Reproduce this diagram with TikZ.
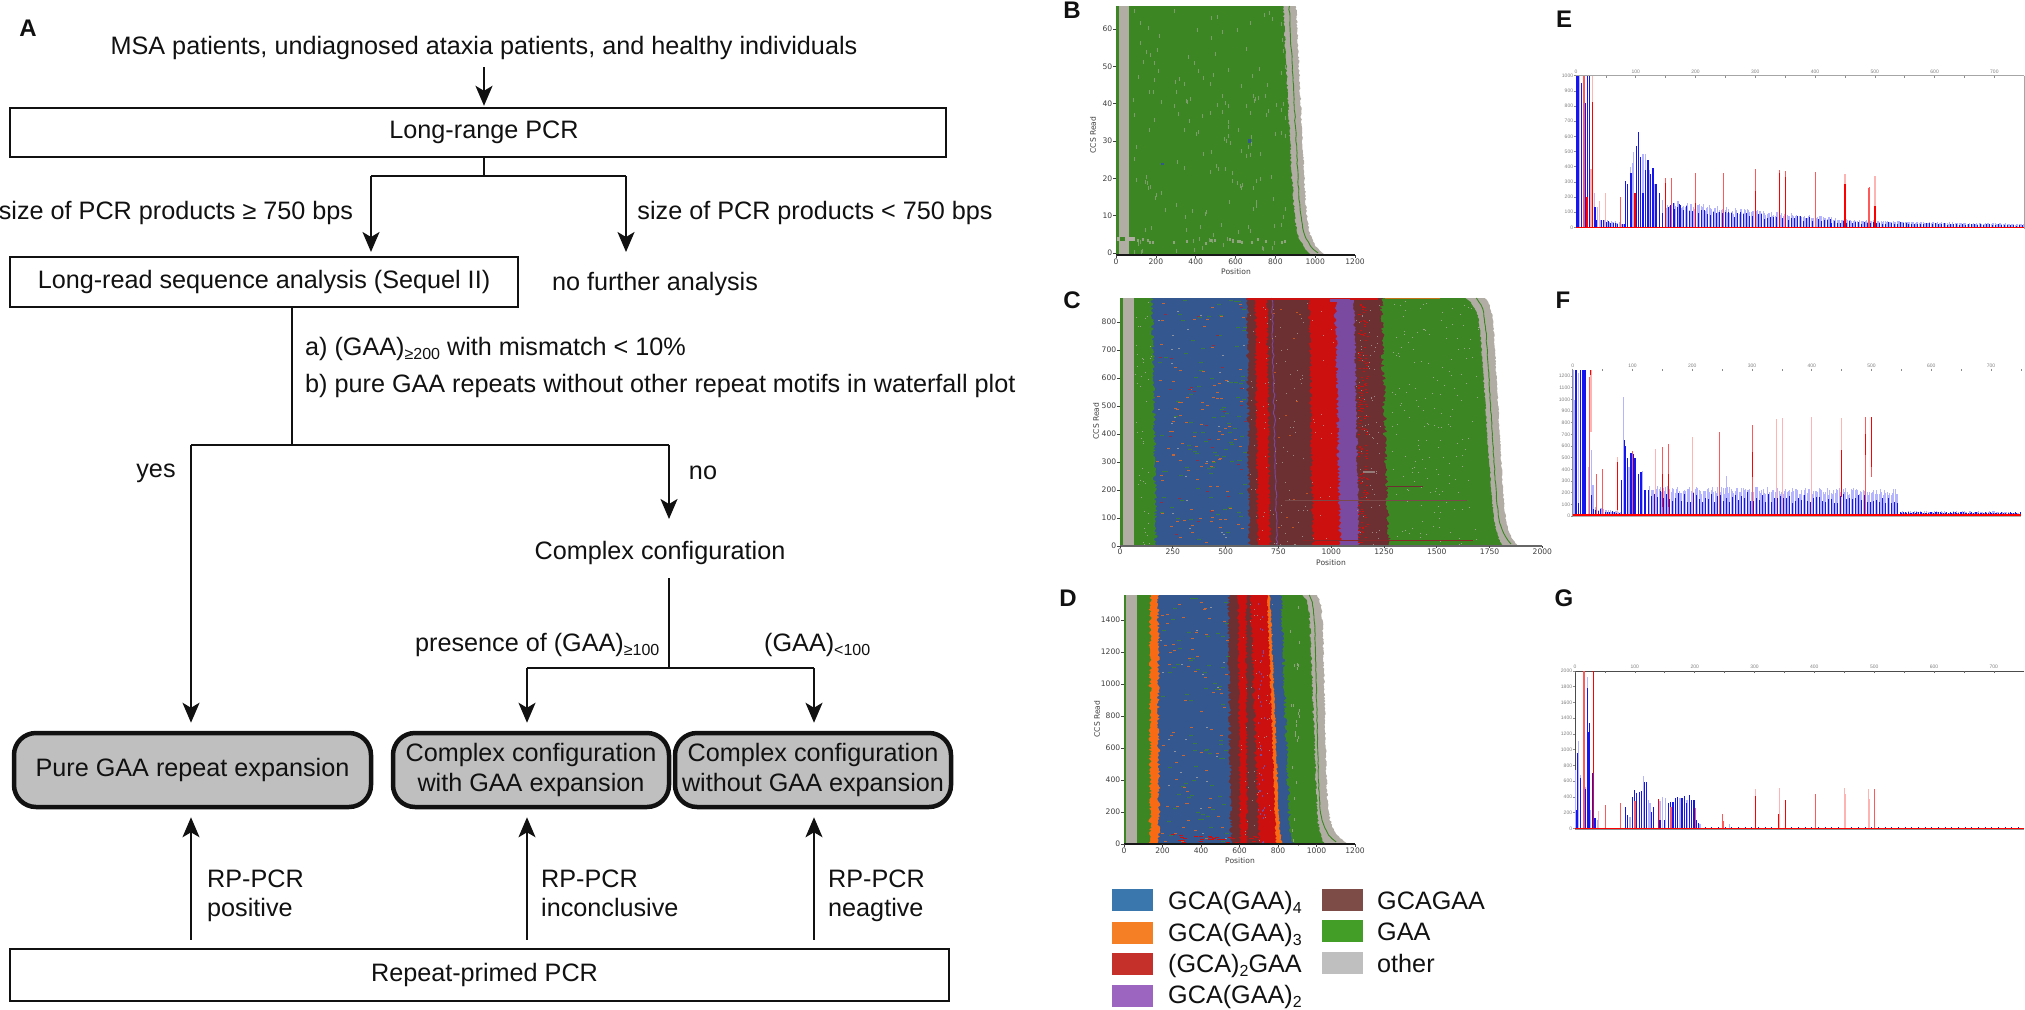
\documentclass[tikz,border=0pt]{standalone}
\usepackage{fontspec}
\setmainfont{Liberation Sans}
\newfontfamily\dvfont{DejaVu Sans}
\usetikzlibrary{arrows.meta}
\definecolor{wgreen}{HTML}{3C8723}
\definecolor{wgray}{HTML}{B1ADA5}
\definecolor{wblue}{HTML}{35578F}
\definecolor{worange}{HTML}{F96A14}
\definecolor{wred}{HTML}{CC1010}
\definecolor{wbrown}{HTML}{6C3032}
\definecolor{wpurple}{HTML}{7A4AA0}
\definecolor{lblue}{HTML}{3A77AD}
\definecolor{lorange}{HTML}{F57F24}
\definecolor{lred}{HTML}{C5312A}
\definecolor{lpurple}{HTML}{9B65C0}
\definecolor{lbrown}{HTML}{7E4C46}
\definecolor{lgreen}{HTML}{429E26}
\definecolor{lgray}{HTML}{BFBFBF}
\definecolor{bdark}{HTML}{1515EE}
\definecolor{blite}{HTML}{B4B4FF}
\definecolor{rmid}{HTML}{FF5A5A}
\definecolor{rlite}{HTML}{FFB4B4}
\definecolor{rfull}{HTML}{FF0000}
\definecolor{inkc}{HTML}{111111}
\newcommand{\subs}[1]{\raisebox{-0.16em}{\fontsize{16}{16}\selectfont #1}}
% colour, x0, ytop, ybot, a, b, c, d, jitter
\newcommand{\wfb}[9]{\fill[#1] (#2,#3) -- plot[domain=#3:#4,samples=170,variable=\v]
  ({#5+#6*(\v-#3)/(#4-#3)-#7*exp(-(\v-#3)/(#4-#3)/0.035)+#8*exp(((\v-#3)/(#4-#3)-1)/0.05)+#9*rand},\v) -- (#2,#4) -- cycle;}
\newcommand{\wfl}[8]{\draw[#1,line width=0.9pt] plot[domain=#2:#3,samples=70,variable=\v]
  ({#4+#5*(\v-#2)/(#3-#2)-#6*exp(-(\v-#2)/(#3-#2)/0.035)+#7*exp(((\v-#2)/(#3-#2)-1)/0.05)+#8*rand},\v);}
% colour, x0,x1,y0,y1,n,w,h
\newcommand{\speck}[8]{\foreach \i in {1,...,#6}{\pgfmathsetmacro\sx{#2+rnd*(#3-#2)}\pgfmathsetmacro\sy{#4+rnd*(#5-#4)}\fill[#1] (\sx,\sy) rectangle ++(#7,#8);}}
% bar helpers
\newcommand{\bl}[3]{\foreach \x/\t in {#3}{\draw[#1,line width=#2pt] (\x,\bbase) -- (\x,\t);}}
\newcommand{\seg}[3]{\foreach \x/\t/\u in {#3}{\draw[#1,line width=#2pt] (\x,\u) -- (\x,\t);}}
\newcommand{\dense}[8]{\pgfmathtruncatemacro\xb{#3+#5}\foreach \x in {#3,\xb,...,#4}{\pgfmathsetmacro\tp{\bbase-(#6+(#7-#6)*(\x-#3)/(#4-#3))*(1-#8*rnd)}\draw[#1,line width=#2pt] (\x,\bbase) -- (\x,\tp);}}
\tikzset{
  ln/.style={draw=inkc,line width=2pt},
  arr/.style={ln,-{Stealth[length=20pt,width=17pt,inset=5pt]}},
  txt/.style={font=\fontsize{25.2}{30}\selectfont,text=inkc,inner sep=0pt,align=center},
  lab/.style={txt,anchor=base west,align=left},
  sq/.style={draw=inkc,line width=2.4pt,fill=white,inner sep=0pt,font=\fontsize{25.2}{30}\selectfont,text=inkc},
  rbox/.style={draw=inkc,line width=4.5pt,fill=lgray,rounded corners=22pt,inner sep=0pt,align=center,font=\fontsize{25.2}{30}\selectfont,text=inkc},
  panel/.style={font=\fontsize{24}{24}\selectfont\bfseries,text=inkc,inner sep=0pt},
  axl/.style={font=\dvfont\fontsize{7.6}{9}\selectfont,text=black!75,inner sep=0.6pt},
  axt/.style={draw=black!75,line width=0.7pt},
  axb/.style={draw=black!90,line width=1.4pt},
  swatch/.style={inner sep=0pt,minimum width=41pt,minimum height=22pt},
  tin/.style={font=\fontsize{5}{5}\selectfont,text=black!50,inner sep=0.4pt},
  tk/.style={draw=black!45,line width=0.6pt}
}
\begin{document}
\begin{tikzpicture}[x=1pt,y=-1pt]
\useasboundingbox (0,0) rectangle (2025,1009);
\fill[white] (0,0) rectangle (2025,1009);
\pgfmathsetseed{42}
%================ panel A
\node[panel] (pa) at (28,28) {A};
\node[txt] (msa) at (484,48) {MSA patients, undiagnosed ataxia patients, and healthy individuals};
\coordinate (a0) at (484,67);
\node[sq,minimum width=936pt,minimum height=49pt] (lr) at (478,132.5) {\hspace*{12pt}Long-range PCR};
\draw[arr] (a0) -- ([yshift=1pt]a0 |- lr.north);
\coordinate (j1) at (484,176);
\coordinate (j1l) at (371,176);
\coordinate (j1r) at (626,176);
\node[txt] (szl) at (176,213) {size of PCR products ≥ 750 bps};
\node[txt] (szr) at (815,213) {size of PCR products < 750 bps};
\node[sq,minimum width=508pt,minimum height=50pt] (seq) at (264,282) {Long-read sequence analysis (Sequel II)};
\node[txt] (nofa) at (655,284) {no further analysis};
\coordinate (j1le) at (371,252);
\coordinate (j1re) at (626,252);
\draw[ln] (lr.south -| j1) -- (j1);
\draw[ln] (j1l) -- (j1r);
\draw[arr] (j1l) -- (j1le);
\draw[arr] (j1r) -- (j1re);
\node[lab] (ca) at (305,355) {a) (GAA)\subs{≥200} with mismatch < 10\%};
\node[lab] (cb) at (305,392) {b) pure GAA repeats without other repeat motifs in waterfall plot};
\coordinate (j2) at (292,445);
\coordinate (j2l) at (191,445);
\coordinate (j2r) at (669,445);
\draw[ln] (seq.south -| j2) -- (j2);
\draw[ln] (j2l) -- (j2r);
\node[txt] (yes) at (156,473) {yes};
\node[txt] (no) at (703,473) {no};
\node[txt] (cc) at (660,553) {Complex configuration};
\coordinate (j2re) at (669,519);
\draw[arr] (j2r) -- (j2re);
\coordinate (j3top) at (669,578);
\coordinate (j3) at (669,668);
\coordinate (j3l) at (527,668);
\coordinate (j3r) at (814,668);
\draw[ln] (j3top) -- (j3);
\draw[ln] (j3l) -- (j3r);
\node[lab] (pres) at (415,651) {presence of (GAA)\subs{≥100}};
\node[lab] (lt) at (764,651) {(GAA)\subs{<100}};
\node[rbox,minimum width=357pt,minimum height=74pt] (b1) at (192.5,770) {Pure GAA repeat expansion};
\node[rbox,minimum width=276pt,minimum height=74pt] (b2) at (531,770) {Complex configuration\\with GAA expansion};
\node[rbox,minimum width=276pt,minimum height=74pt] (b3) at (813,770) {Complex configuration\\without GAA expansion};
\draw[arr] (j2l) -- ([yshift=8pt]j2l |- b1.north);
\draw[arr] (j3l) -- ([yshift=8pt]j3l |- b2.north);
\draw[arr] (j3r) -- ([yshift=8pt]j3r |- b3.north);
\node[sq,minimum width=939pt,minimum height=52pt] (rp) at (479.5,975) {\hspace*{10pt}Repeat-primed PCR};
\draw[arr] ([yshift=8pt]j2l |- rp.north) -- ([yshift=-8pt]j2l |- b1.south);
\draw[arr] ([yshift=8pt]j3l |- rp.north) -- ([yshift=-8pt]j3l |- b2.south);
\draw[arr] ([yshift=8pt]j3r |- rp.north) -- ([yshift=-8pt]j3r |- b3.south);
\node[lab] (r1) at (207,887) {RP-PCR}; \node[lab] (r1b) at (207,916) {positive};
\node[lab] (r2) at (541,887) {RP-PCR}; \node[lab] (r2b) at (541,916) {inconclusive};
\node[lab] (r3) at (828,887) {RP-PCR}; \node[lab] (r3b) at (828,916) {neagtive};
%================ panel letters
\node[panel] (pb) at (1072,10) {B};
\node[panel] (pc) at (1072,300) {C};
\node[panel] (pd) at (1068,598) {D};
\node[panel] (pe) at (1564,19) {E};
\node[panel] (pf) at (1563,300) {F};
\node[panel] (pg) at (1564,598) {G};
%================ B
\wfb{wgray}{1116}{6}{255}{1296}{12}{0}{17}{0.8}
\wfl{wgreen}{6}{253}{1289}{13}{0}{16}{0.5}
\wfb{wgreen}{1116}{6}{255}{1283}{13}{0}{16}{0.9}
\fill[wgray] (1119,6) rectangle (1129,255);
\fill[wgreen] (1116,6) rectangle (1118,255);
\speck{wgray!55!wgreen}{1132}{1285}{8}{250}{170}{1}{4}
\fill[wgray] (1117,237) rectangle (1135,241);
\fill[wgreen] (1120,237) rectangle (1125,241);
\speck{wgray!70!wgreen}{1135}{1290}{238}{242}{22}{2}{3}
\fill[wblue] (1248,139) rectangle (1251,143);
\fill[wblue] (1161,163) rectangle (1164,165);
\draw[axb] (1116,255) -- (1355,255);
\foreach \v in {0,200,...,1200}{\pgfmathsetmacro\px{1116+\v*0.1992}\draw[axt] (\px,255) -- (\px,258);\node[axl,anchor=north] (bx\v) at (\px,258) {\v};}
\foreach \v in {0,10,...,60}{\pgfmathsetmacro\py{253-\v*3.73}\draw[axt] (1113,\py) -- (1116,\py);\node[axl,anchor=east] (by\v) at (1113,\py) {\v};}
\node[axl] (bxl) at (1236,272) {Position};
\node[axl,rotate=90] (byl) at (1093,135) {CCS Read};
%================ C
\wfb{wgray}{1120}{298}{546}{1492}{14}{7}{12}{0.6}
\wfl{wgreen}{298}{544}{1484}{15}{8}{12}{0.4}
\wfb{wgreen}{1120}{298}{546}{1478}{17}{13}{8}{0.7}
\wfb{wbrown}{1120}{298}{546}{1381}{7}{0}{1}{2.4}
\wfb{wpurple}{1120}{298}{546}{1354}{5}{0}{0}{1.3}
\wfb{wred}{1120}{298}{546}{1335}{5}{0}{0}{1.8}
\wfb{wbrown}{1120}{298}{546}{1309}{4}{0}{0}{1.8}
\wfl{wpurple}{298}{546}{1272}{5}{0}{0}{1.0}
\wfb{wred}{1120}{298}{546}{1267}{3}{0}{0}{1.6}
\wfb{wbrown}{1120}{298}{546}{1255}{3}{0}{0}{1.6}
\wfb{wblue}{1120}{298}{546}{1247}{2}{0}{0}{1.8}
\wfb{wgreen}{1120}{298}{546}{1152}{4}{0}{0}{2}
\fill[wgray] (1120,298) rectangle (1134,546);
\fill[wgreen] (1120,298) rectangle (1123,546);
\speck{wred}{1357}{1367}{300}{545}{150}{2}{1}
\speck{worange!75!wblue}{1156}{1244}{300}{545}{90}{3}{1}
\speck{wgreen!75!wblue}{1156}{1244}{300}{545}{90}{4}{1}
\speck{wred!60!wblue}{1156}{1244}{300}{545}{30}{3}{1}
\speck{wgray!70!wblue}{1156}{1244}{300}{545}{25}{2}{1}
\speck{wgray!80!wgreen}{1135}{1151}{300}{545}{45}{1}{1}
\speck{wgray!80!wgreen}{1392}{1478}{300}{545}{170}{1}{1}
\speck{wgray!70!wbrown}{1272}{1307}{300}{545}{55}{1}{1}
\speck{worange!60!wbrown}{1272}{1307}{300}{545}{15}{2}{1}
\speck{wgray!70!wred}{1310}{1334}{300}{545}{20}{1}{1}
\speck{wgray!70!wbrown}{1356}{1380}{300}{545}{70}{1}{1}
\speck{wgray!70!wbrown}{1250}{1270}{300}{545}{35}{1}{1}
\fill[wred] (1247,298) rectangle (1378,300);
\fill[wpurple] (1330,299) rectangle (1350,302);
\fill[worange!70!wgreen] (1385,298) rectangle (1440,299);
\draw[wbrown,line width=0.8pt] (1387,486) -- (1423,486);
\draw[wbrown!80!wgray,line width=0.8pt] (1285,500.5) -- (1467,500.5);
\draw[wbrown!70!wred,line width=1pt] (1303,540) -- (1473,540);
\fill[wgray!60!wbrown] (1363,471) rectangle (1375,472.5);
\draw[axb,draw=black!60] (1120,546) -- (1542,546);
\foreach \v in {0,250,...,2000}{\pgfmathsetmacro\px{1120+\v*0.2112}\draw[axt] (\px,546) -- (\px,548);\node[axl,anchor=north] (cx\v) at (\px,548) {\v};}
\foreach \v in {0,100,...,800}{\pgfmathsetmacro\py{546-\v*0.28}\draw[axt] (1117,\py) -- (1120,\py);\node[axl,anchor=east] (cy\v) at (1117,\py) {\v};}
\node[axl] (cxl) at (1331,563) {Position};
\node[axl,rotate=90] (cyl) at (1096,421) {CCS Read};
%================ D
\wfb{wgray}{1124}{595}{844}{1322}{6}{5}{20}{0.8}
\wfl{wgreen}{595}{842}{1314}{6}{5}{16}{0.4}
\wfb{wgreen}{1124}{595}{844}{1309}{9}{6}{6}{1.0}
\wfb{wblue}{1124}{595}{844}{1281}{9}{0}{3}{1.8}
\wfb{worange}{1124}{595}{844}{1270}{10}{0}{2}{0.9}
\wfb{wred}{1124}{595}{844}{1267}{9}{0}{0}{1.0}
\wfb{wbrown}{1124}{595}{844}{1250}{9}{0}{0}{1.8}
\wfb{wred}{1124}{595}{844}{1246}{1}{0}{0}{1.4}
\wfb{wbrown}{1124}{595}{844}{1238}{2}{0}{0}{1.4}
\wfb{wblue}{1124}{595}{844}{1228}{3}{0}{0}{1.8}
\wfb{worange}{1124}{595}{844}{1158}{1}{0}{0}{1.6}
\wfb{wgreen}{1124}{595}{844}{1150}{0}{0}{0}{1.6}
\fill[wgray] (1124,595) rectangle (1137,844);
\fill[wgreen] (1124,595) rectangle (1126,844);
\speck{worange!75!wblue}{1160}{1226}{597}{843}{65}{3}{1}
\speck{wgreen!75!wblue}{1160}{1226}{597}{843}{65}{4}{1}
\speck{wgray!70!wblue}{1160}{1226}{597}{843}{20}{2}{1}
\speck{wgray!70!wbrown}{1240}{1272}{597}{843}{60}{1}{1}
\speck{wpurple}{1258}{1264}{597}{843}{40}{1}{2}
\speck{wgray!70!wgreen}{1290}{1300}{597}{843}{25}{1}{3}
\speck{wred}{1170}{1275}{834}{843}{45}{4}{1}
\draw[axb] (1124,844) -- (1355,844);
\foreach \v in {0,200,...,1200}{\pgfmathsetmacro\px{1124+\v*0.1925}\draw[axt] (\px,844) -- (\px,847);\node[axl,anchor=north] (dx\v) at (\px,847) {\v};}
\foreach \v in {0,200,...,1400}{\pgfmathsetmacro\py{844-\v*0.16}\draw[axt] (1121,\py) -- (1124,\py);\node[axl,anchor=east] (dy\v) at (1121,\py) {\v};}
\node[axl] (dxl) at (1240,861) {Position};
\node[axl,rotate=90] (dyl) at (1097,719) {CCS Read};
%================ legend
\node[swatch,fill=lblue] (s1) at (1132.5,900) {};
\node[swatch,fill=lorange] (s2) at (1132.5,932.5) {};
\node[swatch,fill=lred] (s3) at (1132.5,964) {};
\node[swatch,fill=lpurple] (s4) at (1132.5,996) {};
\node[swatch,fill=lbrown] (s5) at (1342,900) {};
\node[swatch,fill=lgreen] (s6) at (1342,931) {};
\node[swatch,fill=lgray] (s7) at (1342,963) {};
\node[lab] (t1) at (1168,909) {GCA(GAA)\subs{4}};
\node[lab] (t2) at (1168,941) {GCA(GAA)\subs{3}};
\node[lab] (t3) at (1168,972) {(GCA)\subs{2}GAA};
\node[lab] (t4) at (1168,1003) {GCA(GAA)\subs{2}};
\node[lab] (t5) at (1377,909) {GCAGAA};
\node[lab] (t6) at (1377,940) {GAA};
\node[lab] (t7) at (1377,972) {other};
%================ E
\begin{scope}[shift={(1555,60)},x=0.33333pt,y=-0.33333pt]
\def\bbase{502}
\draw[tk,draw=black!35] (63,47) -- (1408,47);
\draw[tk,draw=black!35] (63,47) -- (63,502);
\draw[tk,draw=black!35] (1408,47) -- (1408,508);
\foreach \v [count=\k from 0] in {0,100,...,700}{\pgfmathsetmacro\px{63+179.3*\k}\node[tin,anchor=south] (ex\v) at (\px,43) {\v};}
\foreach \k in {0,...,14}{\pgfmathsetmacro\px{63+89.65*\k}\draw[tk] (\px,47) -- (\px,53);}
\foreach \v [count=\k from 0] in {0,100,...,1000}{\pgfmathsetmacro\py{502-45.5*\k}\draw[tk] (56,\py) -- (63,\py);\node[tin,anchor=east] (ey\v) at (56,\py) {\v};}
% light
\dense{blite}{0.9}{120}{210}{4}{30}{14}{.3}
\dense{blite}{0.9}{330}{520}{4}{82}{62}{.3}
\dense{blite}{0.9}{520}{830}{4}{60}{32}{.3}
\dense{blite}{0.9}{830}{1060}{4}{28}{18}{.3}
\dense{blite}{0.9}{1060}{1405}{4}{18}{11}{.3}
\bl{blite}{1.4}{72/47,66/47,80/200,104/47,118/400,128/440,226/320,232/310,236/277,264/282,272/283,284/330,300/372,322/420,358/428,368/424,408/432}
% dark
\dense{bdark}{0.8}{125}{210}{7}{26}{10}{.4}
\dense{bdark}{0.8}{330}{520}{9}{75}{52}{.4}
\dense{bdark}{0.8}{520}{830}{9}{50}{26}{.4}
\dense{bdark}{0.8}{830}{1060}{9}{20}{15}{.4}
\dense{bdark}{0.8}{1060}{1405}{9}{14}{8}{.4}
\bl{bdark}{1.1}{65/47,69/47,80/70,90/130,98/47,103/47,112/380,120/440,212/362,218/372,228/340,244/258,250/216,257/292,264/400,272/330,279/300,286/342,294/325,303/372,313/400,322/460,340/450,347/435,356/430,373/432}
\bl{rlite}{1.6}{88/90,113/47,133/423,152/400,108/328}
\bl{rmid}{1.2}{85/47,87/47,196/410,331/355,349/355,421/338,505/338,601/328,673/330,691/333,781/336,941/383,943/380}
\bl{rlite}{1.6}{870/343,960/348,958/348}
\bl{rfull}{1.1}{113/125,331/370,673/338,691/352,601/392,870/372,960/437,958/446,96/412,240/400,421/430}
\draw[rfull,line width=1.5pt] (63,502) -- (1408,502);
\end{scope}
%================ F
\begin{scope}[shift={(1555,350)},x=0.33333pt,y=-0.33333pt]
\def\bbase{498}
\foreach \v [count=\k from 0] in {0,100,...,700}{\pgfmathsetmacro\px{53+179.3*\k}\node[tin,anchor=south] (fx\v) at (\px,55) {\v};\draw[tk] (\px,56) -- (\px,62);}
\foreach \k in {0,...,7}{\pgfmathsetmacro\px{142.6+179.3*\k}\draw[tk] (\px,58) -- (\px,63);}
\foreach \v [count=\k from 0] in {0,100,...,1200}{\pgfmathsetmacro\py{498-35*\k}\draw[tk] (47,\py) -- (53,\py);\node[tin,anchor=east] (fy\v) at (47,\py) {\v};}
\draw[tk] (53,60) -- (53,498);
\dense{blite}{0.9}{115}{195}{5}{30}{14}{.3}
\dense{blite}{1}{280}{1030}{4}{92}{82}{.25}
\dense{blite}{0.9}{1035}{1395}{4}{15}{14}{.4}
\bl{blite}{1.5}{56/60,60/150,70/70,100/350,110/300,114/405,205/140,212/290,222/350,262/362,515/378}
\dense{bdark}{0.8}{280}{1030}{9}{80}{62}{.45}
\dense{bdark}{0.8}{115}{195}{7}{25}{10}{.3}
\dense{bdark}{0.8}{1035}{1395}{5}{13}{12}{.4}
\bl{bdark}{1.1}{63/60,76/60,84/60,88/60,92/60,70/460,110/435,200/390,208/270,211/288,217/325,228/308,234/312,240/325,250/372,258/367,270/420,280/420}
\bl{rlite}{1.4}{187/322,301/297,412/262,664/208,682/205,769/202,859/204}
\bl{rmid}{1.4}{103/80,233/304,124/372,142/357,322/292,340/282,493/246,592/224,931/201}
\seg{rlite}{1.6}{108/60/245}
\seg{rfull}{1.4}{107/60/75,187/336/480,322/372/470,340/372/470,592/305/380,859/300/440,931/253/315,949/202/350}
\seg{rmid}{1.4}{949/350/380}
\draw[rfull,line width=2pt] (53,495) -- (1398,495);
\draw[black!30,line width=1pt] (53,500) -- (1398,500);
\end{scope}
%================ G
\begin{scope}[shift={(1555,650)},x=0.33333pt,y=-0.33333pt]
\def\bbase{535}
\draw[black!70,line width=0.9pt] (1408,63) -- (60,63) -- (60,535);
\foreach \v [count=\k from 0] in {0,100,...,700}{\pgfmathsetmacro\px{60+179.5*\k}\node[tin,anchor=south] (gx\v) at (\px,57) {\v};}
\foreach \k in {0,...,14}{\pgfmathsetmacro\px{60+89.75*\k}\draw[black!60,line width=0.6pt] (\px,63) -- (\px,69);}
\foreach \v [count=\k from 0] in {0,200,...,2000}{\pgfmathsetmacro\py{535-47.2*\k}\draw[tk] (53,\py) -- (60,\py);\node[tin,anchor=east] (gy\v) at (53,\py) {\v};}
\bl{blite}{1.5}{62/360,70/272,76/375,90/410,97/80,105/480,120/505,127/510,225/500,265/378,275/435,280/450,285/460,315/452,322/440,332/445,356/455,375/443,396/450,435/522,523/522}
\bl{bdark}{1.1}{64/480,68/310,76/385,90/418,98/113,100/245,103/220,113/370,120/505,130/520,211/472,218/495,232/440,238/420,244/428,253/427,259/422,268/395,274/397,289/485,295/470,315/510,328/510,340/460,347/455,354/455,361/443,367/440,381/445,389/438,395/460,403/435,410/450,417/450,425/510,430/520}
\foreach \x in {450,470,...,1400}{\draw[bdark,line width=1pt] (\x,535) -- (\x,532);}
\bl{rmid}{1.2}{151/465,196/460,240/452,348/470,421/475,502/492,505/513,781/433,958/416}
\bl{rlite}{1.6}{130/483,601/418,673/415,868/415,871/432,940/417,943/447}
\bl{rmid}{2.2}{87/63}
\bl{rfull}{1.1}{115/63,601/438,691/450,671/492,310/447}
\draw[rfull,line width=1.2pt] (60,535) -- (1408,535);
\draw[black!45,line width=0.8pt] (60,539) -- (1408,539);
\end{scope}
\end{tikzpicture}
\end{document}
